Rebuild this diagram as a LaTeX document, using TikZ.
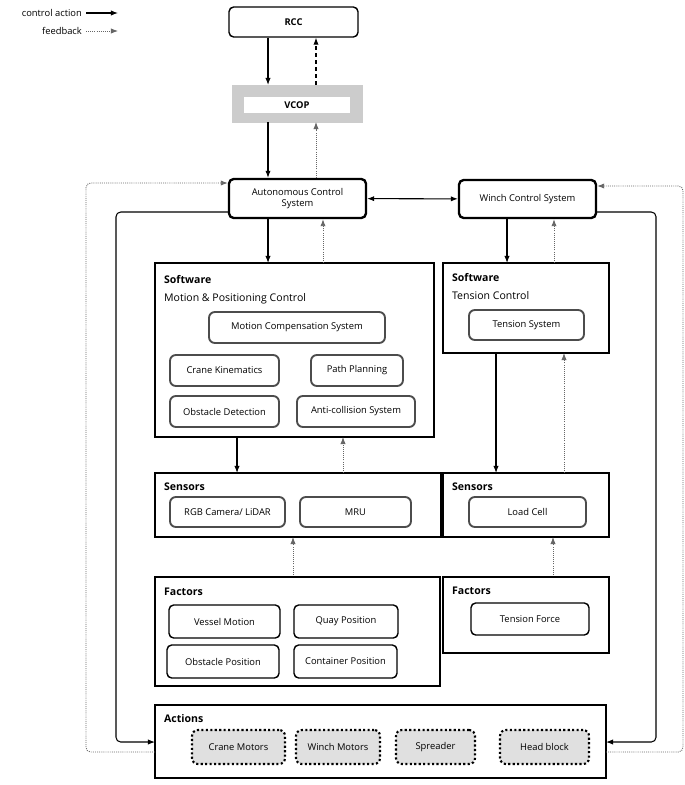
\documentclass[tikz,border=0pt]{standalone}
\usepackage{fontspec}
\setmainfont{Open Sans}
\usetikzlibrary{arrows.meta}
\tikzset{
  box/.style={draw, line width=1.2pt, rounded corners=4pt, align=center, font=\fontsize{8}{9}\selectfont},
  item/.style={draw=black!70, line width=1.6pt, rounded corners=5pt, align=center, font=\fontsize{8}{9}\selectfont},
  act/.style={draw, line width=1.8pt, dotted, fill=black!12, rounded corners=5pt, font=\fontsize{8}{9}\selectfont},
  group/.style={draw, line width=1.2pt},
  ttl/.style={anchor=west, font=\fontsize{9}{10}\selectfont\bfseries},
  ctrl/.style={line width=0.9pt, -{Latex[length=6pt]}},
  fb/.style={line width=0.8pt, densely dotted, draw=black!60, -{Latex[length=6pt]}},
}
\begin{document}
\begin{tikzpicture}[x=0.03cm,y=-0.03cm]
\useasboundingbox (0,0) rectangle (685,785);

% legend
\node[anchor=east, font=\fontsize{8}{9}\selectfont] (lgc) at (86,13) {control action};
\node[anchor=east, font=\fontsize{8}{9}\selectfont] (lgf) at (86,31) {feedback};
\coordinate (lgce) at (118,13);
\coordinate (lgfe) at (118,31);
\draw[ctrl] (lgc) -- (lgce);
\draw[fb] (lgf) -- (lgfe);

% top
\node[box, minimum width=129*0.03cm, minimum height=30*0.03cm, font=\fontsize{8}{9}\selectfont\bfseries] (rcc) at (293.5,22) {RCC};
\draw[draw=black!20, fill=black!20] (232,85) rectangle (362,122);
\node[fill=white, minimum width=106*0.03cm, minimum height=16*0.03cm, font=\fontsize{8}{9}\selectfont\bfseries] (vcop) at (297,105) {VCOP};
\coordinate (vcopn) at (297,85);
\coordinate (vcops) at (297,122);
\node[box, line width=2pt, minimum width=137*0.03cm, minimum height=39*0.03cm] (acs) at (297.5,198.5) {Autonomous Control\\System};
\node[box, line width=2pt, minimum width=137*0.03cm, minimum height=38*0.03cm] (wcs) at (527.5,199) {Winch Control System};

\draw[ctrl] (rcc.south -| 268,0) -- (vcopn -| 268,0);
\draw[line width=0.9pt, dashed, -{Latex[length=6pt]}] (vcopn -| 316,0) -- (rcc.south -| 316,0);
\draw[ctrl] (vcops -| 268,0) -- (acs.north -| 268,0);
\draw[fb] (acs.north -| 316,0) -- (vcops -| 316,0);
\draw[line width=0.9pt, {Latex[length=6pt]}-{Latex[length=6pt]}] (acs) -- (wcs);

% software
\draw[group] (155,263) rectangle (434,437);
\coordinate (swl) at (155,263);
\coordinate (swls) at (155,437);
\node[ttl] at (160,280) {Software};
\node[ttl, font=\fontsize{9}{10}\selectfont] at (160,299) {Motion \& Positioning Control};
\node[item, minimum width=176*0.03cm, minimum height=31*0.03cm] (mcs) at (297,327.5) {Motion Compensation System};
\node[item, minimum width=109*0.03cm, minimum height=31*0.03cm] (ck) at (224.5,370.5) {Crane Kinematics};
\node[item, minimum width=92*0.03cm, minimum height=31*0.03cm] (pp) at (357,370.5) {Path Planning};
\node[item, minimum width=109*0.03cm, minimum height=31*0.03cm] (od) at (224.5,411.5) {Obstacle Detection};
\node[item, minimum width=118*0.03cm, minimum height=31*0.03cm] (acol) at (356,411.5) {Anti-collision System};

\draw[group] (443,263) rectangle (609,353);
\node[ttl] at (448,278) {Software};
\node[ttl, font=\fontsize{9}{10}\selectfont] at (448,296) {Tension Control};
\node[item, minimum width=115*0.03cm, minimum height=30*0.03cm] (ts) at (526.5,325) {Tension System};

% sensors
\draw[group] (155,473) rectangle (441,537);
\node[ttl] at (160,487) {Sensors};
\node[item, minimum width=115*0.03cm, minimum height=30*0.03cm] (rgb) at (227.5,512) {RGB Camera/ LiDAR};
\node[item, minimum width=111*0.03cm, minimum height=30*0.03cm] (mru) at (355.5,512) {MRU};
\draw[group] (443,473) rectangle (609,537);
\node[ttl] at (448,487) {Sensors};
\node[item, minimum width=117*0.03cm, minimum height=30*0.03cm] (lc) at (527.5,512) {Load Cell};

\draw[ctrl] (acs.south -| 268,0) -- (268,263);
\draw[fb] (323,263) -- (acs.south -| 323,0);
\draw[ctrl] (wcs.south -| 507,0) -- (507,263);
\draw[fb] (554,263) -- (wcs.south -| 554,0);
\draw[ctrl] (237,437) -- (237,473);
\draw[fb] (343,473) -- (343,437);
\draw[ctrl] (496,353) -- (496,473);
\draw[fb] (564,473) -- (564,353);
\draw[fb] (293,577) -- (293,537);
\draw[fb] (553,577) -- (553,537);

% factors
\draw[group] (155,577) rectangle (440,686);
\node[ttl] at (160,592) {Factors};
\node[box, minimum width=111*0.03cm, minimum height=33*0.03cm] (vm) at (224.5,621.5) {Vessel Motion};
\node[box, minimum width=104*0.03cm, minimum height=33*0.03cm] (qp) at (346,621.5) {Quay Position};
\node[box, minimum width=112*0.03cm, minimum height=33*0.03cm] (op) at (223,661.5) {Obstacle Position};
\node[box, minimum width=103*0.03cm, minimum height=33*0.03cm] (cp) at (345.5,661.5) {Container Position};
\draw[group] (443,577) rectangle (609,653);
\node[ttl] at (448,591) {Factors};
\node[box, minimum width=118*0.03cm, minimum height=32*0.03cm] (tf) at (530,619) {Tension Force};

% actions
\draw[group] (155,705) rectangle (606,778);
\node[ttl] at (160,719) {Actions};
\node[act, minimum width=93*0.03cm, minimum height=34*0.03cm] (cm) at (238.5,747) {Crane Motors};
\node[act, minimum width=84*0.03cm, minimum height=34*0.03cm] (wm) at (338,747) {Winch Motors};
\node[act, minimum width=79*0.03cm, minimum height=34*0.03cm] (sp) at (435.5,747) {Spreader};
\node[act, minimum width=89*0.03cm, minimum height=34*0.03cm] (hb) at (544.5,747) {Head block};

\coordinate (actl) at (155,742);
\coordinate (actr) at (606,742);
\draw[ctrl, rounded corners=4pt] (acs.west |- 0,212) -- (116,212) -- (116,742) -- (actl);
\draw[ctrl, rounded corners=4pt] (wcs.east |- 0,212) -- (656,212) -- (656,742) -- (actr);
\draw[fb, rounded corners=4pt] (155,752) -- (86,752) -- (86,183) -- (acs.west |- 0,183);
\draw[fb, rounded corners=4pt] (606,752) -- (683,752) -- (683,186) -- (wcs.east |- 0,186);
\end{tikzpicture}
\end{document}
